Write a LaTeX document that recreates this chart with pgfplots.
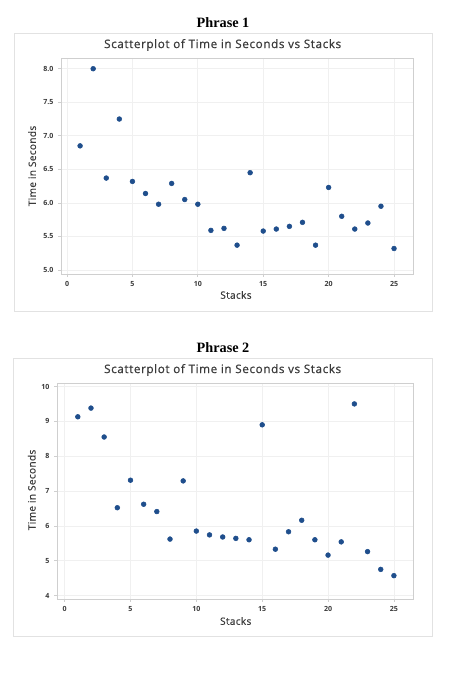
\documentclass[border=0pt]{standalone}
\usepackage{fontspec}
\setmainfont{Open Sans}
\newfontfamily\serifbold{Liberation Serif}
\newfontfamily\titlefont[LetterSpace=5, FakeBold=0.6]{Open Sans}
\newfontfamily\labelfont[LetterSpace=3, FakeBold=0.5]{Open Sans}
\usepackage{pgfplots}
\pgfplotsset{compat=1.18}
\definecolor{dotblue}{HTML}{1F4E8C}
\definecolor{txtgray}{HTML}{3A3A3A}
\definecolor{framegray}{HTML}{CFCFCF}
\definecolor{gridgray}{HTML}{F0F0F0}
\definecolor{boxgray}{HTML}{E2E2E2}
\pgfplotsset{
  dots/.style={only marks, mark=*, mark size=1.8pt,
      draw=dotblue, fill=dotblue, mark options={draw=dotblue, fill=dotblue}},
  mstyle/.style={
    scale only axis,
    axis line style={framegray},
    tick style={framegray, line width=0.5pt},
    tick align=outside,
    major tick length=2.2pt,
    xtick pos=bottom, ytick pos=left,
    grid=major,
    major grid style={gridgray, line width=0.5pt},
    tick label style={font=\fontsize{5.3}{6}\selectfont\bfseries, color=txtgray},
    /pgf/number format/assume math mode=true,
    label style={font=\labelfont\fontsize{7.6}{8}\selectfont, color=txtgray},
    xtick={0,5,...,25},
    xlabel={Stacks}, ylabel={Time in Seconds},
  }
}
\begin{document}
\begin{tikzpicture}
\path (0pt,0pt) rectangle (342.75pt,525pt);
% outer boxes
\draw[boxgray, line width=0.6pt] (10.5pt,291.75pt) rectangle (324pt,500.25pt);
\draw[boxgray, line width=0.6pt] (9.75pt,48pt) rectangle (324pt,256.5pt);
% panel titles
\node at (167.25pt,507.75pt) {\serifbold\fontsize{10.7}{12}\selectfont\bfseries Phrase 1};
\node at (167.25pt,264pt) {\serifbold\fontsize{10.7}{12}\selectfont\bfseries Phrase 2};
\node[color=txtgray] at (167pt,491.25pt) {\titlefont\fontsize{8.8}{9}\selectfont Scatterplot of Time in Seconds vs Stacks};
\node[color=txtgray] at (167pt,247.5pt) {\titlefont\fontsize{8.8}{9}\selectfont Scatterplot of Time in Seconds vs Stacks};

\begin{axis}[mstyle, at={(45.75pt,319.5pt)}, anchor=south west,
  width=264pt, height=162pt,
  xmin=-0.46, xmax=26.45, ymin=4.94, ymax=8.16,
  ytick={5.0,5.5,...,8.0},
  yticklabel style={/pgf/number format/.cd, fixed, fixed zerofill, precision=1},
  xlabel style={at={(axis description cs:0.497,-0.097)}, anchor=center},
  ylabel style={at={(axis description cs:-0.082,0.5)}, anchor=center},
]
\addplot[dots] coordinates {
(1,6.85) (2,8.00) (3,6.37) (4,7.25) (5,6.32) (6,6.14) (7,5.98) (8,6.29)
(9,6.05) (10,5.98) (11,5.59) (12,5.62) (13,5.37) (14,6.45) (15,5.58)
(16,5.61) (17,5.65) (18,5.71) (19,5.37) (20,6.23) (21,5.80) (22,5.61)
(23,5.70) (24,5.95) (25,5.32)};
\end{axis}

\begin{axis}[mstyle, at={(42.75pt,75.75pt)}, anchor=south west,
  width=267pt, height=162pt,
  xmin=-0.58, xmax=26.45, ymin=3.9, ymax=10.1,
  ytick={4,5,...,10},
  xlabel style={at={(axis description cs:0.502,-0.102)}, anchor=center},
  ylabel style={at={(axis description cs:-0.071,0.505)}, anchor=center},
]
\addplot[dots] coordinates {
(1,9.13) (2,9.38) (3,8.55) (4,6.52) (5,7.31) (6,6.62) (7,6.41) (8,5.62)
(9,7.29) (10,5.85) (11,5.74) (12,5.68) (13,5.64) (14,5.60) (15,8.90)
(16,5.33) (17,5.83) (18,6.16) (19,5.60) (20,5.16) (21,5.54) (22,9.50)
(23,5.26) (24,4.75) (25,4.57)};
\end{axis}
\end{tikzpicture}
\end{document}
